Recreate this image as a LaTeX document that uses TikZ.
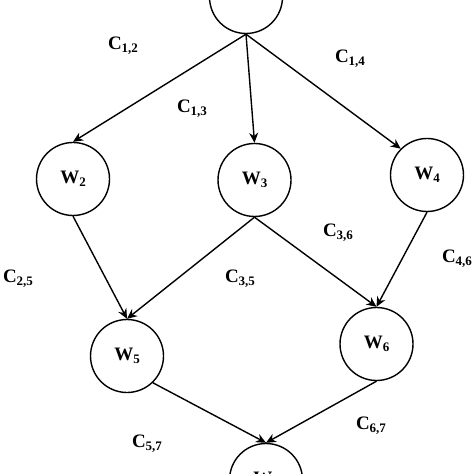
\documentclass[tikz,border=0pt]{standalone}
\usepackage{fontspec}
\setmainfont{Liberation Serif}
\usetikzlibrary{arrows.meta}
\newcommand\mysb[1]{\raisebox{-3bp}{\fontsize{13bp}{13bp}\selectfont #1}}
\newcommand\lbl[2]{\textbf{#1\mysb{#2}}}
\begin{document}
\begin{tikzpicture}[x=1bp,y=-1bp,
  wnode/.style={circle,draw,line width=1.4bp,minimum size=73bp,inner sep=0pt,
    font=\fontsize{19bp}{22bp}\selectfont},
  cost/.style={inner sep=0pt,font=\fontsize{19bp}{22bp}\selectfont},
  edge/.style={line width=1.4bp,-{Stealth[length=10bp,width=9bp]}}]
\useasboundingbox (0,0) rectangle (474,474);
\node[wnode] (w1) at (246,-3) {};
\node[wnode] (w2) at (73,179) {\lbl{W}{2}};
\node[wnode] (w3) at (254.5,180) {\lbl{W}{3}};
\node[wnode] (w4) at (427,175) {\lbl{W}{4}};
\node[wnode] (w5) at (127,356) {\lbl{W}{5}};
\node[wnode] (w6) at (376.5,344) {\lbl{W}{6}};
\node[wnode] (w7) at (266,480) {\lbl{W}{7}};
\draw[edge] (w1.south) -- (w2.north);
\draw[edge] (w1.south) -- (w3.north);
\draw[edge] (w1.south) -- (w4.north west);
\draw[edge] (w2.south) -- (w5.north);
\draw[edge] (w3.south) -- (w5.north);
\draw[edge] (w3.south) -- (w6.north);
\draw[edge] (w4.south) -- (w6.north);
\draw[edge] (w5.-46) -- (w7.north);
\draw[edge] (w6.south) -- (w7.north);
\node[cost] (c12) at (123,46) {\lbl{C}{1,2}};
\node[cost] (c13) at (192,109) {\lbl{C}{1,3}};
\node[cost] (c14) at (350,59) {\lbl{C}{1,4}};
\node[cost] (c25) at (18,279) {\lbl{C}{2,5}};
\node[cost] (c35) at (240,279) {\lbl{C}{3,5}};
\node[cost] (c36) at (338,233) {\lbl{C}{3,6}};
\node[cost] (c46) at (457,259) {\lbl{C}{4,6}};
\node[cost] (c57) at (147,444) {\lbl{C}{5,7}};
\node[cost] (c67) at (371,426) {\lbl{C}{6,7}};
\end{tikzpicture}
\end{document}
